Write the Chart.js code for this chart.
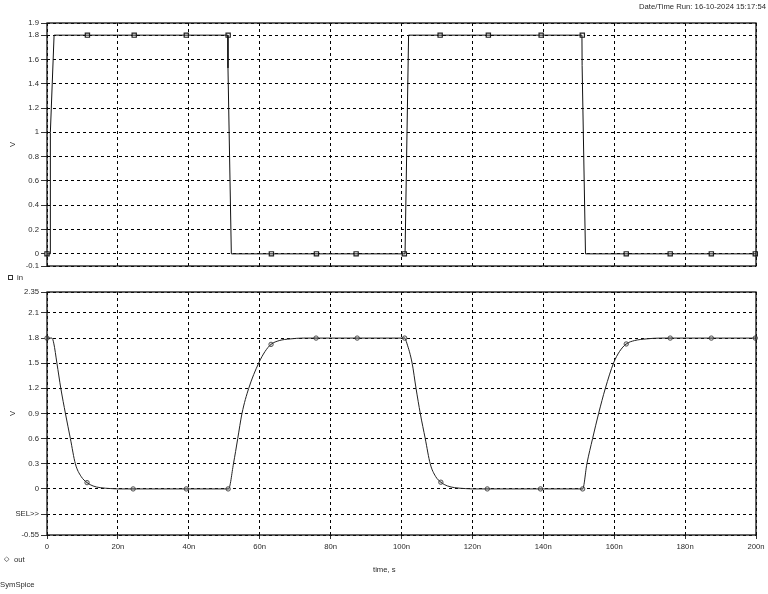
<!DOCTYPE html>
<html><head><meta charset="utf-8">
<script src="https://cdn.jsdelivr.net/npm/chart.js@4.4.1/dist/chart.umd.min.js"></script>
<style>
html,body{margin:0;padding:0;background:#fff;}
#wrap{position:relative;width:768px;height:594px;overflow:hidden;font-family:"Liberation Sans",Arial,sans-serif;color:#2a2a2a;font-size:7.7px;}
canvas{position:absolute;left:0;}
.t{position:absolute;white-space:nowrap;line-height:1;}
.sq{position:absolute;width:3px;height:3px;border:1px solid #333;background:#fff;}
</style></head><body>
<div id="wrap">
<canvas id="c1" width="768" height="280" style="top:0px"></canvas>
<canvas id="c2" width="768" height="314" style="top:280px"></canvas>
<div class="t" style="right:2px;top:3px">Date/Time Run: 16-10-2024 15:17:54</div>
<div class="sq" style="left:8px;top:275px"></div>
<div class="t" style="left:17px;top:274px">in</div>
<div class="t" style="left:4px;top:556px;font-family:'DejaVu Sans';font-size:7px">&#9671;</div>
<div class="t" style="left:14px;top:556px">out</div>
<div class="t" style="left:373px;top:566px">time, s</div>
<div class="t" style="left:0px;top:581px">SymSpice</div>
</div>
<script>
// ---- data ----
const xTicks = [0, 20, 40, 60, 80, 100, 120, 140, 160, 180, 200];
const inTicks = [1.9, 1.8, 1.6, 1.4, 1.2, 1, 0.8, 0.6, 0.4, 0.2, 0, -0.1];
const inTickLabels = ['1.9', '1.8', '1.6', '1.4', '1.2', '1', '0.8', '0.6', '0.4', '0.2', '0', '-0.1'];
const outTicks = [2.35, 2.1, 1.8, 1.5, 1.2, 0.9, 0.6, 0.3, 0, -0.3, -0.55];
const outTickLabels = ['2.35', '2.1', '1.8', '1.5', '1.2', '0.9', '0.6', '0.3', '0', 'SEL>>', '-0.55'];

// input pulse (time in ns, volts)
const inT = [0, 0.9, 0.95, 2.0, 51.0, 51.05, 52.0, 101.0, 102.0, 150.9, 150.95, 151.9, 200];
const inV = [0, 0, 1.0, 1.8, 1.8, 1.53, 0, 0, 1.8, 1.8, 1.55, 0, 0];
const inMarkT = [0, 11.4, 24.6, 39.3, 51.1, 63.3, 76.0, 87.2, 100.8, 110.9, 124.5, 139.4, 151.0, 163.4, 175.8, 187.4, 199.8];
const inMarkV = [0, 1.8, 1.8, 1.8, 1.8, 0, 0, 0, 0, 1.8, 1.8, 1.8, 1.8, 0, 0, 0, 0];

// output waveform
const outT = [0, 1.4, 1.9, 2.8, 3.9, 5.2, 6.6, 8.0, 9.6, 11.3, 13, 15, 18, 20,
  51.2, 52.6, 53.8, 55.0, 56.9, 59.7, 61.5, 63.2, 65.5, 68.6, 72.3,
  100.9, 101.5, 103.0, 104.1, 105.3, 106.7, 108.1, 109.6, 111.1, 113, 115, 118, 120,
  151.1, 152.3, 153.9, 155.6, 157.5, 159.8, 161.5, 163.4, 165.7, 169, 173, 200];
const outV = [1.8, 1.8, 1.74, 1.5, 1.2, 0.9, 0.6, 0.3, 0.15, 0.075, 0.035, 0.015, 0.004, 0,
  0, 0.3, 0.6, 0.9, 1.2, 1.5, 1.64, 1.725, 1.77, 1.79, 1.8,
  1.8, 1.74, 1.5, 1.2, 0.9, 0.6, 0.3, 0.15, 0.08, 0.035, 0.015, 0.004, 0,
  0, 0.3, 0.6, 0.9, 1.2, 1.5, 1.64, 1.73, 1.77, 1.79, 1.8, 1.8];
const outMarkT = [0, 11.3, 24.3, 39.3, 51.1, 63.2, 75.9, 87.5, 100.9, 111.1, 124.2, 139.2, 151.1, 163.4, 175.8, 187.4, 199.8];
const outMarkV = [1.8, 0.075, 0, 0, 0, 1.725, 1.8, 1.8, 1.8, 0.08, 0, 0, 0, 1.73, 1.8, 1.8, 1.8];

// ---- drawing ----
const FONT = {family: "'Liberation Sans', Arial, sans-serif", size: 7.7};
const TXT = '#2a2a2a';
const pts = (ts, vs) => ts.map((t, i) => ({x: t, y: vs[i]}));

const frame = {
  id: 'frame',
  afterDatasetsDraw(chart) {
    const {ctx, chartArea: a} = chart;
    ctx.save();
    ctx.strokeStyle = '#111';
    ctx.lineWidth = 1.3;
    ctx.setLineDash([]);
    ctx.strokeRect(a.left, a.top, a.right - a.left, a.bottom - a.top);
    ctx.restore();
  }
};

function yScale(min, max, ticks, labels) {
  return {
    type: 'linear', min, max,
    afterBuildTicks(s) { s.ticks = ticks.map(v => ({value: v})); },
    afterFit(s) { s.width = 47; },
    ticks: {font: FONT, color: TXT, padding: 2, autoSkip: false,
      callback: (v, i) => labels[i]},
    grid: {color: '#000', lineWidth: 1, tickLength: 6, tickColor: '#333', tickWidth: 1},
    border: {display: false, dash: [3, 3]},
    title: {display: true, text: 'V', font: FONT, color: TXT, padding: {top: 8, bottom: 0}}
  };
}

function xScale(showLabels) {
  return {
    type: 'linear', min: 0, max: 200,
    afterBuildTicks(s) { s.ticks = xTicks.map(v => ({value: v})); },
    afterFit(s) { s.height = showLabels ? 20 : 0; },
    ticks: {display: showLabels, font: FONT, color: TXT, padding: 3, autoSkip: false, maxRotation: 0,
      callback: v => (v === 0 ? '0' : v + 'n')},
    grid: {color: '#000', lineWidth: 1, drawTicks: showLabels, tickLength: 4, tickColor: '#333'},
    border: {display: false, dash: [3, 3]}
  };
}

const common = {
  responsive: false, animation: false, devicePixelRatio: 1, events: [],
  plugins: {legend: {display: false}, tooltip: {enabled: false}}
};

new Chart(document.getElementById('c1'), {
  type: 'scatter',
  data: {datasets: [
    {data: pts(inT, inV), showLine: true, borderColor: '#111', borderWidth: 1, pointRadius: 0, tension: 0},
    {data: pts(inMarkT, inMarkV), showLine: false, pointStyle: 'rect', pointRadius: 3,
      borderColor: '#222', backgroundColor: '#fff', borderWidth: 1.2, clip: false}
  ]},
  options: Object.assign({}, common, {
    layout: {padding: {top: 23, right: 12, bottom: 14, left: 0}},
    scales: {x: xScale(false), y: yScale(-0.1, 1.9, inTicks, inTickLabels)}
  }),
  plugins: [frame]
});

new Chart(document.getElementById('c2'), {
  type: 'scatter',
  data: {datasets: [
    {data: pts(outT, outV), showLine: true, borderColor: '#222', borderWidth: 1, pointRadius: 0,
      cubicInterpolationMode: 'monotone'},
    {data: pts(outMarkT, outMarkV), showLine: false, pointStyle: 'circle', pointRadius: 2.2,
      borderColor: '#555', backgroundColor: '#ddd', borderWidth: 1, clip: false}
  ]},
  options: Object.assign({}, common, {
    layout: {padding: {top: 12, right: 12, bottom: 39, left: 0}},
    scales: {x: xScale(true), y: yScale(-0.55, 2.35, outTicks, outTickLabels)}
  }),
  plugins: [frame]
});
</script>
</body></html>
